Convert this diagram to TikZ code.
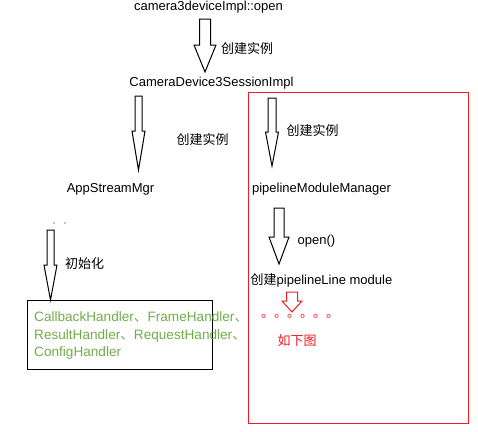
\documentclass[tikz,border=0pt]{standalone}
\usepackage{fontspec}
\setmainfont{Liberation Sans}
\newfontfamily\cjk{Noto Sans CJK SC}
\usetikzlibrary{calc}
\definecolor{handlergreen}{RGB}{112,173,71}
\definecolor{notered}{RGB}{240,28,36}
\newcommand{\zh}[1]{{\cjk #1}}
\tikzset{
    pics/blockarrow/.style args = {#1/#2/#3/#4}{
        code = {%
        \coordinate (-top) at (0,0);
        \coordinate (-tip) at (0,#4);
        \draw[line width=1pt,fill=white](-#1,0) -- (#1,0) -- (#1,#3) -- (#2,#3) -- (0,#4) -- (-#2,#3) -- (-#1,#3) -- cycle;
        }
    },
    txt/.style = {inner sep=0pt, font=\fontsize{13}{17.5}\selectfont, text height=9.5pt, text depth=2.7pt},
}

\begin{document}
\begin{tikzpicture}[x=1pt,y=-1pt]
\useasboundingbox (0,0) rectangle (478,431);

\node[draw=notered,line width=1pt,minimum width=220pt,minimum height=331pt,inner sep=0pt](pipebox) at (358,257.5){};

\node[txt](open) at (208.5,7){camera3deviceImpl::open};
\pic(a1) at (205,19) {blockarrow={5.5/11/26/53}};
\node[txt](l1) at (247,50){\zh{创建实例}};

\node[txt](session) at (211.5,83){CameraDevice3SessionImpl};

\pic(a2) at (138.5,96) {blockarrow={3.5/6.5/35/74}};
\node[txt](l2) at (202.5,141){\zh{创建实例}};
\pic(a3) at (272,98) {blockarrow={4/6.5/34/68}};
\node[txt](l3) at (312.5,132){\zh{创建实例}};

\node[txt](appmgr) at (110.5,189){AppStreamMgr};
\node[txt](pmm) at (321.5,189){pipelineModuleManager};

\fill (54,223) circle[radius=0.7];
\fill (65,223) circle[radius=0.7];
\pic(a4) at (50.5,230) {blockarrow={3.5/6.5/35/70}};
\node[txt](l4) at (84.5,265){\zh{初始化}};

\node[draw,line width=1pt,minimum width=185pt,minimum height=69pt,inner sep=0pt](hbox) at (119.5,334.5){};
\node[txt,text=handlergreen,anchor=north west,align=left,text height=,text depth=,font=\fontsize{13.6}{17.5}\selectfont](handlers) at (34,311.5){CallbackHandler\zh{、}FrameHandler\zh{、}\\ResultHandler\zh{、}RequestHandler\zh{、}\\ConfigHandler};

\pic(a5) at (279,208) {blockarrow={5/10/29/56}};
\node[txt](l5) at (316.5,241){open()};
\node[txt](module) at (321.5,281){\zh{创建}pipelineLine module};

\pic[color=notered](a6) at (292,292) {blockarrow={5.5/10/9/20}};
\node[txt,text=notered,anchor=base west](dots) at (261,317){\zh{。。。。。。}};
\node[txt,text=notered](l6) at (297,342){\zh{如下图}};
\end{tikzpicture}
\end{document}
